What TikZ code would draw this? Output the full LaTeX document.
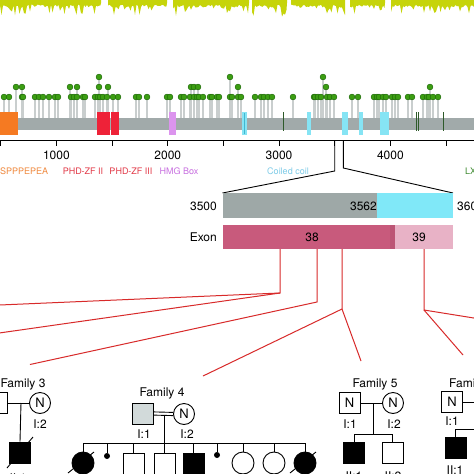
\documentclass[tikz,border=0pt]{standalone}
\usepackage{fontspec}
\setmainfont{TeX Gyre Heros}
\usetikzlibrary{calc}
\definecolor{trackc}{HTML}{C6D40A}
\definecolor{barc}{HTML}{A1AAAA}
\definecolor{stemc}{HTML}{C9CECE}
\definecolor{lolc}{HTML}{3C9E12}
\definecolor{loldc}{HTML}{1E6A08}
\definecolor{orangec}{HTML}{F57A22}
\definecolor{redc}{HTML}{EE2238}
\definecolor{hmgc}{HTML}{DC94EE}
\definecolor{cyanc}{HTML}{86E4F4}
\definecolor{cyandc}{HTML}{40B8D0}
\definecolor{dgreen}{HTML}{2E5A2A}
\definecolor{zgray}{HTML}{9EA8A7}
\definecolor{zcyan}{HTML}{80E8F8}
\definecolor{exd}{HTML}{C85A7C}
\definecolor{exl}{HTML}{E8B2C6}
\definecolor{linered}{HTML}{D82A2A}
\definecolor{lblorange}{HTML}{F08A40}
\definecolor{lblred}{HTML}{E23A48}
\definecolor{lblviolet}{HTML}{C870E0}
\definecolor{lblcyan}{HTML}{80CCE8}
\definecolor{lblgreen}{HTML}{3E8A30}
\definecolor{pgray}{HTML}{D2DADA}
\tikzset{
  stem/.style={draw=stemc, line width=1.1pt},
  lol/.style={circle, fill=lolc, draw=loldc, line width=0.5pt, minimum size=5.8pt, inner sep=0pt},
  big/.style={font=\fontsize{12}{12}\selectfont, inner sep=0pt},
  small/.style={font=\fontsize{9}{9}\selectfont, inner sep=0pt},
  zline/.style={draw=black, line width=0.9pt},
  rline/.style={draw=linered, line width=1pt},
  ped/.style={draw=black, line width=0.9pt},
  sq/.style={rectangle, draw=black, line width=0.9pt, minimum size=21pt, inner sep=0pt, font=\fontsize{13}{13}\selectfont},
  ci/.style={circle, draw=black, line width=0.9pt, minimum size=21pt, inner sep=0pt, font=\fontsize{13}{13}\selectfont},
  cib/.style={circle, draw=black, line width=0.9pt, minimum size=22pt, inner sep=0pt},
  dot/.style={circle, fill=black, minimum size=6pt, inner sep=0pt},
}
\begin{document}
\begin{tikzpicture}[x=1pt,y=-1pt]
\clip (0,0) rectangle (474,474);
\fill[white] (0,0) rectangle (474,474);

% conservation track
\pgfmathsetseed{7}
\foreach \s/\e in {0/101,108/167,173/249,252/287,291/345,350/385,391/476}{
  \pgfmathsetmacro\sn{\s+1.5}
  \fill[trackc] (\s,-1) -- (\s,3)
    \foreach \x in {\s,\sn,...,\e}{ -- (\x,{4.5+3*rnd+32*max(rnd-0.7,0)}) }
    -- (\e,3) -- (\e,-1) -- cycle;
}

% lollipop stems
\foreach \x in {4,9,22,23,35,39,43,49,55,58,71,74,77,83,85,95,98,100,103,107,113,118,136,139,147,
  167,170,181,184,190,194,197,199,203,210,212,217,219,230,232,238,241,255,261,264,268,272,293,314,
  315,318,321,327,330,334,352,358,374,377,379,383,386,392,395,398,408,412,423,427,429,433,438}
  {\draw[stem] (\x,97) -- (\x,118);}
\foreach \x in {16,22,70,77,99,108,191,194,198,238,326,430}
  {\draw[stem] (\x,87) -- (\x,118);}
\foreach \x in {99,230,323}
  {\draw[stem] (\x,77) -- (\x,118);}

% protein bar and domains
\fill[barc] (0,118) rectangle (476,130);
\fill[orangec] (-5,112) rectangle (18,135);
\fill[redc] (97,112) rectangle (110,135);
\fill[redc] (111,112) rectangle (119,135);
\fill[hmgc] (169,112) rectangle (176,135);
\foreach \a/\b in {242/247,307/311,342/348,359/363,380/389}
  {\fill[cyanc] (\a,112) rectangle (\b,135);}
\draw[cyandc, line width=0.8pt] (244.5,113) -- (244.5,134);
\foreach \x in {283,416,418.5,443}
  {\draw[dgreen, line width=0.8pt] (\x,112) -- (\x,131);}

% lollipop heads
\foreach \x [count=\i] in {4,9,22,23,35,39,43,49,55,58,71,74,77,83,85,95,98,100,103,107,113,118,136,139,147,
  167,170,181,184,190,194,197,199,203,210,212,217,219,230,232,238,241,255,261,264,268,272,293,314,
  315,318,321,327,330,334,352,358,374,377,379,383,386,392,395,398,408,412,423,427,429,433,438}
  {\node[lol] (la\i) at (\x,97) {};}
\foreach \x [count=\i] in {16,22,70,77,99,108,191,194,198,238,326,430}
  {\node[lol] (lb\i) at (\x,87) {};}
\foreach \x [count=\i] in {99,230,323}
  {\node[lol] (lc\i) at (\x,77) {};}

% axis
\draw[line width=0.9pt] (0,140) -- (476,140);
\foreach \k in {0,...,8}
  {\draw[line width=0.9pt] ({0.7+55.7*\k},140) -- ({0.7+55.7*\k},145.5);}
\node[big] (t1) at (56.4,155) {1000};
\node[big] (t2) at (167.8,155) {2000};
\node[big] (t3) at (279,155) {3000};
\node[big] (t4) at (390.4,155) {4000};

% domain labels
\node[small, text=lblorange, anchor=west] (d1) at (0,171) {SPPPEPEA};
\node[small, text=lblred] (d2) at (83,171) {PHD-ZF II};
\node[small, text=lblred] (d3) at (131,171) {PHD-ZF III};
\node[small, text=lblviolet] (d4) at (179,171) {HMG Box};
\node[small, text=lblcyan] (d5) at (288,171) {Coiled coil};
\node[small, text=lblgreen, anchor=west] (d6) at (465,171) {LXXLL};

% zoom lines
\coordinate (zl0) at (334.7,140);
\coordinate (zl1) at (334.7,171);
\coordinate (zr0) at (343.3,140);
\coordinate (zr1) at (343.3,168);
\coordinate (zbl) at (222.5,193);
\coordinate (zbr) at (453,193);
\draw[zline] (zl0) -- (zl1) -- (zbl);
\draw[zline] (zr0) -- (zr1) -- (zbr);

% zoomed bars
\fill[zgray] (222.5,193) rectangle (377,218);
\fill[zcyan] (377,193) rectangle (453,218);
\node[big, anchor=east] (z3562) at (377,206) {3562};
\node[big, anchor=east] (z3500) at (217,206) {3500};
\node[big, anchor=west] (z3600) at (457,206) {3600};
\fill[exd] (222.5,225) rectangle (395,249);
\fill[black!6!exd] (390,225) rectangle (395,249);
\fill[exl] (395,225) rectangle (453,249);
\node[big] (e38) at (312,237) {38};
\node[big] (e39) at (419,237) {39};
\node[big, anchor=east] (exon) at (217,237) {Exon};

% red connector lines
\coordinate (ra0) at (280,249);  \coordinate (ra1) at (280,293);
\coordinate (ra2) at (-5,305.2); \coordinate (ra3) at (-5,333.6);
\coordinate (rb0) at (317,249);  \coordinate (rb1) at (317,302);
\coordinate (rb2) at (30,364.5);
\coordinate (rc0) at (342,249);  \coordinate (rc1) at (342,309);
\coordinate (rc2) at (203,376);  \coordinate (rc3) at (361,361);
\coordinate (rd0) at (424,249);  \coordinate (rd1) at (424,310);
\coordinate (rd2) at (480,319);  \coordinate (rd3) at (463,355);
\draw[rline] (ra0) -- (ra1) -- (ra2);
\draw[rline] (ra1) -- (ra3);
\draw[rline] (rb0) -- (rb1) -- (rb2);
\draw[rline] (rc0) -- (rc1) -- (rc2);
\draw[rline] (rc1) -- (rc3);
\draw[rline] (rd0) -- (rd1) -- (rd2);
\draw[rline] (rd1) -- (rd3);

% Family 3
\node[big] (f3t) at (23,384) {Family 3};
\node[sq] (f3a) at (-3.5,403) {};
\node[ci] (f3b) at (40,403) {N};
\node[big] (f3bl) at (40,424) {I:2};
\draw[ped] (f3a.east) -- (f3b.west);
\coordinate (f3m) at (21,403);
\node[sq, fill=black] (f3c) at (20,452.5) {};
\draw[ped] (f3m) -- (f3c.north);
\draw[ped] ($(f3c.center)+(-13,15.5)$) -- ($(f3c.center)+(13,-15.5)$);
\node[big] (f3cl) at (18,478) {II:1};

% Family 4
\node[big] (f4t) at (162,393) {Family 4};
\node[sq, fill=pgray] (f4a) at (142.5,413.5) {};
\node[ci] (f4b) at (184,414) {N};
\node[big] (f4al) at (144,434) {I:1};
\node[big] (f4bl) at (187,434) {I:2};
\draw[ped] ($(f4a.east)+(0,-1.6)$) -- ($(f4b.west)+(0,-1.6)$);
\draw[ped] ($(f4a.east)+(0,1.6)$) -- ($(f4b.west)+(0,1.6)$);
\coordinate (f4m) at (164,415.1);
\coordinate (f4s) at (164,443);
\draw[ped] (f4m) -- (f4s);
\coordinate (f4sl) at (83,443);
\coordinate (f4sr) at (305,443);
\draw[ped] (f4sl) -- (f4sr);
\node[cib, fill=black] (c1) at (83,463) {};
\node[dot] (c2) at (107,456) {};
\node[sq] (c3) at (133.5,463.5) {};
\node[sq] (c4) at (164.5,463.5) {};
\node[sq, fill=black] (c5) at (193.5,463.5) {};
\node[dot] (c6) at (217,455) {};
\node[cib] (c7) at (243,463) {};
\node[cib] (c8) at (274,463) {};
\node[cib, fill=black] (c9) at (305,463) {};
\foreach \c/\x in {c1/83,c2/107,c3/133.5,c4/164.5,c5/193.5,c6/217,c7/243,c8/274,c9/305}
  {\draw[ped] (\x,443) -- (\c.north);}
\draw[ped] ($(c1.center)+(-15,10)$) -- ($(c1.center)+(11,-11)$);
\draw[ped] ($(c9.center)+(-15,10)$) -- ($(c9.center)+(11,-11)$);

% Family 5
\node[big] (f5t) at (375,384) {Family 5};
\node[sq] (f5a) at (349.5,403) {N};
\node[ci] (f5b) at (393,403) {N};
\node[big] (f5al) at (350,424) {I:1};
\node[big] (f5bl) at (394,424) {I:2};
\draw[ped] (f5a.east) -- (f5b.west);
\coordinate (f5m) at (373,403);
\coordinate (f5s) at (373,434);
\draw[ped] (f5m) -- (f5s);
\node[sq, fill=black] (f5c) at (354,452.5) {};
\node[sq] (f5d) at (392.5,452.5) {};
\draw[ped] (f5c.north) -- (354,434) -- (392.5,434) -- (f5d.north);
\node[big] (f5cl) at (354,476) {II:1};
\node[big] (f5dl) at (393,476) {II:2};

% Family 6
\node[big, anchor=west] (f6t) at (449,384) {Family 6};
\node[sq] (f6a) at (452,402) {N};
\coordinate (f6r) at (480,402);
\draw[ped] (f6a.east) -- (f6r);
\node[big] (f6al) at (452,421) {I:1};
\node[sq, fill=black] (f6c) at (455.5,448) {};
\coordinate (f6s) at (480,429);
\draw[ped] (f6c.north) -- (455.5,429) -- (f6s);
\node[big] (f6cl) at (455,470) {II:1};
\end{tikzpicture}
\end{document}
